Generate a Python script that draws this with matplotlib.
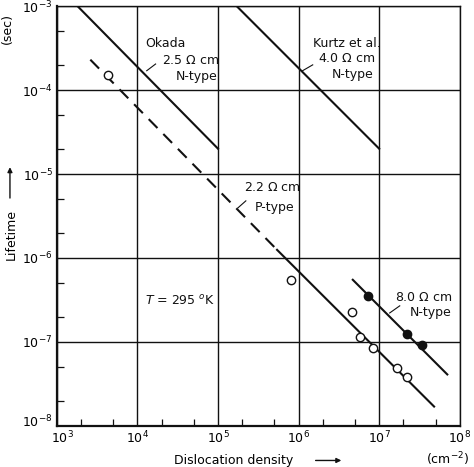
import matplotlib
matplotlib.use("Agg")
import matplotlib.pyplot as plt
from matplotlib.ticker import LogLocator, NullFormatter, FixedLocator
from matplotlib.transforms import ScaledTranslation

# straight-line fits (dislocation density, lifetime)
okada_x = [1.8e3, 1.0e5]
okada_y = [1.0e-3, 2.0e-5]
kurtz_x = [1.7e5, 1.0e7]
kurtz_y = [1.0e-3, 2.0e-5]
ptype_dash_x = [2.6e3, 5.4e5]
ptype_dash_y = [2.3e-4, 1.25e-6]
ptype_x = [5.4e5, 4.8e7]
ptype_y = [1.25e-6, 1.7e-8]
ntype8_x = [4.7e6, 7.0e7]
ntype8_y = [5.5e-7, 4.1e-8]

# measured points
open_x = [4.3e3, 8.0e5, 4.6e6, 5.7e6, 8.3e6, 1.65e7, 2.2e7]
open_y = [1.5e-4, 5.4e-7, 2.3e-7, 1.15e-7, 8.5e-8, 4.9e-8, 3.8e-8]
filled_x = [7.2e6, 2.2e7, 3.4e7]
filled_y = [3.5e-7, 1.25e-7, 9.1e-8]

xticks = [1e3, 1e4, 1e5, 1e6, 1e7, 1e8]
xticklabels = ['$10^3$', '$10^4$', '$10^5$', '$10^6$', '$10^7$', '$10^8$']
yticks = [1e-8, 1e-7, 1e-6, 1e-5, 1e-4, 1e-3]
yticklabels = ['$10^{-8}$', '$10^{-7}$', '$10^{-6}$', '$10^{-5}$', '$10^{-4}$', '$10^{-3}$']

plt.rcParams['font.family'] = ['DejaVu Sans']
plt.rcParams['mathtext.fontset'] = 'dejavusans'

fig = plt.figure(figsize=(4.74, 4.67), dpi=100)
ax = fig.add_axes([0.120, 0.088, 0.850, 0.899])
ax.set_xscale('log')
ax.set_yscale('log')
ax.set_xlim(1e3, 1e8)
ax.set_ylim(1e-8, 1e-3)

ax.xaxis.set_major_locator(FixedLocator(xticks))
ax.yaxis.set_major_locator(FixedLocator(yticks))
ax.set_xticklabels(xticklabels, fontsize=9)
ax.set_yticklabels(yticklabels, fontsize=9)
ax.xaxis.set_minor_locator(LogLocator(base=10, subs=(2.0, 5.0)))
ax.yaxis.set_minor_locator(LogLocator(base=10, subs=(2.0, 5.0)))
ax.xaxis.set_minor_formatter(NullFormatter())
ax.yaxis.set_minor_formatter(NullFormatter())
ax.tick_params(which='major', direction='in', length=0, pad=3)
ax.tick_params(which='minor', direction='in', length=5, width=0.9, color='#111111')
ax.grid(True, which='major', color='#111111', linewidth=1.0)
for s in ax.spines.values():
    s.set_linewidth(1.0)
    s.set_color('#111111')
ax.spines['left'].set_linewidth(1.6)
ax.spines['bottom'].set_linewidth(1.6)

# keep the two corner labels (10^-8 and 10^3) from running into each other
corner_y = ax.get_yticklabels()[0]
corner_y.set_transform(corner_y.get_transform() + ScaledTranslation(0, 4 / 72, fig.dpi_scale_trans))
corner_x = ax.get_xticklabels()[0]
corner_x.set_transform(corner_x.get_transform() + ScaledTranslation(4 / 72, 0, fig.dpi_scale_trans))

lc = '#111111'
ax.plot(okada_x, okada_y, color=lc, lw=1.5)
ax.plot(kurtz_x, kurtz_y, color=lc, lw=1.5)
ax.plot(ptype_dash_x, ptype_dash_y, color=lc, lw=1.5, linestyle=(0, (6, 4)))
ax.plot(ptype_x, ptype_y, color=lc, lw=1.5)
ax.plot(ntype8_x, ntype8_y, color=lc, lw=1.5)
ax.plot(open_x, open_y, linestyle='none', marker='o', markersize=6,
        markerfacecolor='white', markeredgecolor=lc, markeredgewidth=1.0, zorder=5)
ax.plot(filled_x, filled_y, linestyle='none', marker='o', markersize=6,
        markerfacecolor=lc, markeredgecolor=lc, zorder=5)

fs = 9
def label(x, y, s, **kw):
    ax.text(x, y, s, transform=ax.transAxes, ha='center', va='center',
            fontsize=fs, color=lc, **kw)

def leader(x0, y0, x1, y1):
    ax.plot([x0, x1], [y0, y1], transform=ax.transAxes, color=lc, lw=0.8)

label(0.270, 0.912, 'Okada')
label(0.333, 0.871, '2.5 $\\Omega$ cm')
label(0.347, 0.833, 'N-type')
leader(0.223, 0.846, 0.245, 0.862)

label(0.720, 0.912, 'Kurtz et al.')
label(0.720, 0.874, '4.0 $\\Omega$ cm')
label(0.734, 0.838, 'N-type')
leader(0.608, 0.845, 0.635, 0.860)

label(0.536, 0.567, '2.2 $\\Omega$ cm')
label(0.541, 0.521, 'P-type')
leader(0.449, 0.519, 0.469, 0.536)

label(0.305, 0.298, '$\\it{T}$ = 295 $^o$K')

label(0.911, 0.307, '8.0 $\\Omega$ cm')
label(0.928, 0.271, 'N-type')
leader(0.826, 0.269, 0.851, 0.286)

# axis titles drawn as plain figure text with arrows
fig.text(0.015, 0.940, '(sec)', rotation=90, ha='center', va='center', fontsize=fs)
fig.text(0.023, 0.497, 'Lifetime', rotation=90, ha='center', va='center', fontsize=fs)
fig.add_artist(matplotlib.patches.FancyArrowPatch(
    (0.021, 0.570), (0.021, 0.648), transform=fig.transFigure,
    arrowstyle='-|>', mutation_scale=7, color=lc, lw=1.0))
fig.text(0.492, 0.013, 'Dislocation density', ha='center', va='center', fontsize=fs)
fig.add_artist(matplotlib.patches.FancyArrowPatch(
    (0.660, 0.014), (0.726, 0.014), transform=fig.transFigure,
    arrowstyle='-|>', mutation_scale=7, color=lc, lw=1.0))
fig.text(0.945, 0.017, '(cm$^{-2}$)', ha='center', va='center', fontsize=fs)

fig.savefig('out.png', dpi=100)
